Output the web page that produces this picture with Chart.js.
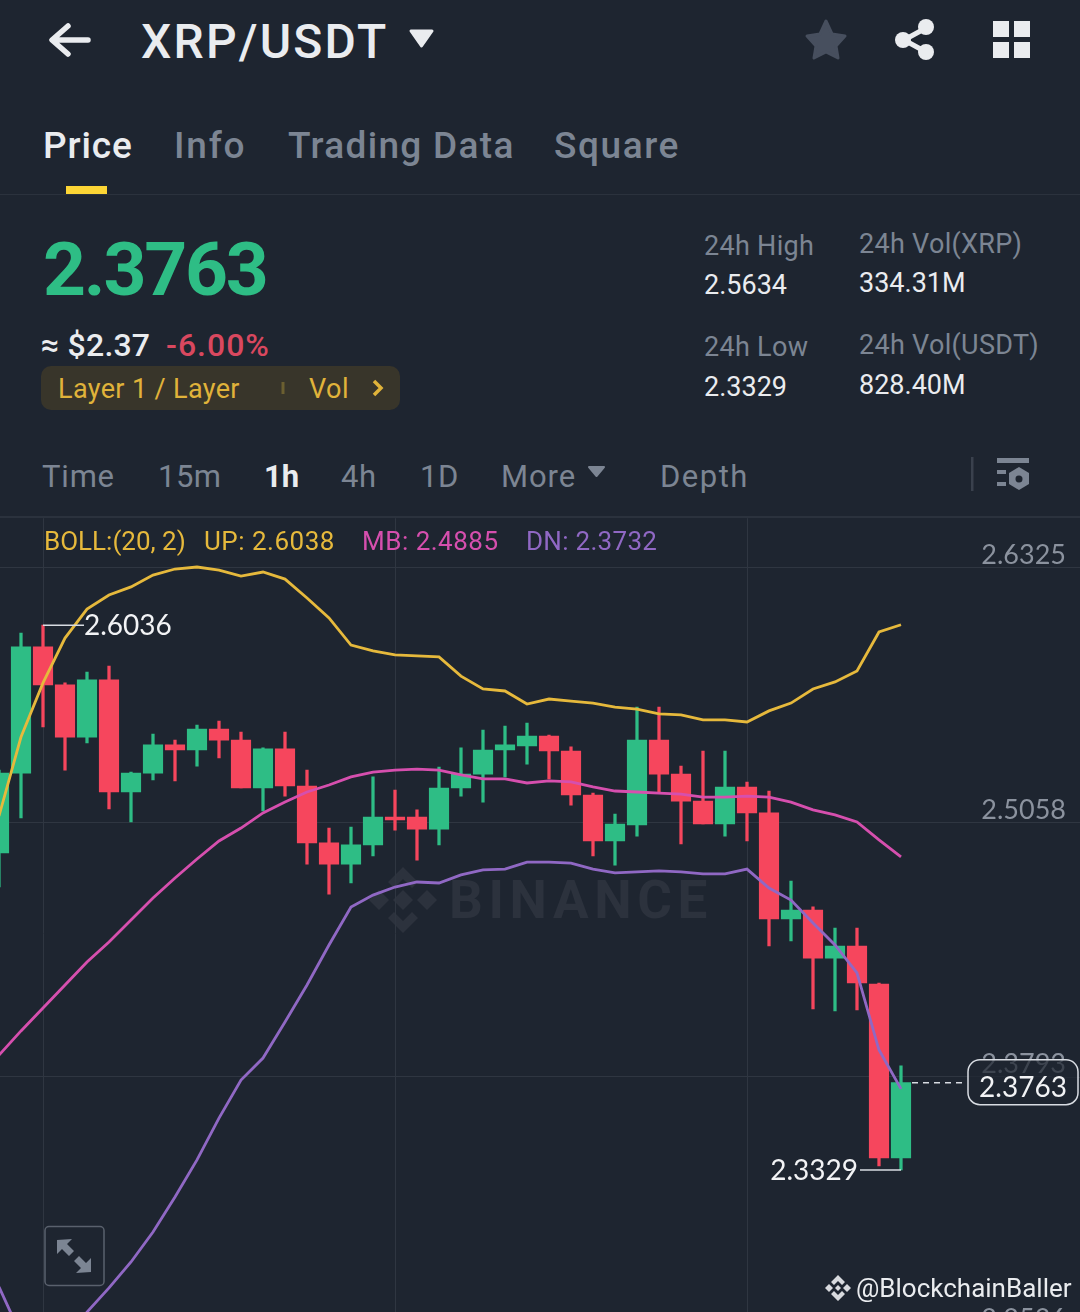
<!DOCTYPE html>
<html><head><meta charset="utf-8">
<script src="https://cdn.jsdelivr.net/npm/chart.js@4"></script>
<style>
html,body{margin:0;padding:0;width:1080px;height:1312px;overflow:hidden;background:#1e2530;font-family:"Roboto",sans-serif}
.t{position:absolute;white-space:nowrap;transform:translateY(-50%);line-height:1}
.g{color:#7c8593}.w{color:#eaecef}
.line{position:absolute;background:#2b323d}
svg{position:absolute;left:0;top:0}
#c{position:absolute;left:0;top:488px}
</style></head><body>
<svg width="1080" height="1312" viewBox="0 0 1080 1312">
 <path d="M88 40H53M68 26L52 40L68 54" fill="none" stroke="#eaecef" stroke-width="5.5" stroke-linecap="round" stroke-linejoin="round"/>
 <path d="M411 31H432L421.500 46Z" fill="#eaecef" stroke="#eaecef" stroke-width="3" stroke-linejoin="round"/>
 <path d="M826 21L832 34L845 36L836 46L838 58L826 52L814 58L816 46L807 36L820 34Z" fill="#474f5e" stroke="#474f5e" stroke-width="3" stroke-linejoin="round"/>
 <path d="M926 28L904 40L926 52" fill="none" stroke="#eaecef" stroke-width="5"/>
 <circle cx="926" cy="27" r="8" fill="#eaecef"/><circle cx="903" cy="40" r="8" fill="#eaecef"/><circle cx="926" cy="52" r="8" fill="#eaecef"/>
 <rect x="993" y="21" width="16" height="16" fill="#eaecef"/><rect x="1014" y="21" width="16" height="16" fill="#eaecef"/>
 <rect x="993" y="42" width="16" height="16" fill="#eaecef"/><rect x="1014" y="42" width="16" height="16" fill="#eaecef"/>
 <rect x="66" y="186" width="41" height="8" fill="#fcd535"/>
 <rect x="41" y="366" width="359" height="44" rx="10" fill="#38352a"/>
 <rect x="281.500" y="382" width="3" height="12" fill="#6b5f30"/>
 <path d="M374 381L381 388L374 395" fill="none" stroke="#e0b33a" stroke-width="3.500"/>
 <path d="M589 467H604L596.500 476Z" fill="#7c8593" stroke="#7c8593" stroke-width="2" stroke-linejoin="round"/>
 <rect x="971" y="457" width="2.500" height="34" fill="#3a414d"/>
 <rect x="997" y="458" width="32" height="5" fill="#7c8593"/>
 <rect x="997" y="470" width="9" height="4" fill="#7c8593"/><rect x="997" y="482" width="9" height="4" fill="#7c8593"/>
 <path d="M1019 467L1029 473V484L1019 490L1009 484V473Z" fill="#7c8593"/><circle cx="1019" cy="479" r="3.500" fill="#1e2530"/>
 <g transform="translate(403,900)" fill="#2c323d">
  <path d="M0 -33L15 -18L9 -12L0 -21L-9 -12L-15 -18Z"/><path d="M0 33L15 18L9 12L0 21L-9 12L-15 18Z"/>
  <path d="M-34 0L-24 -10L-14 0L-24 10Z"/><path d="M34 0L24 -10L14 0L24 10Z"/><path d="M0 -10L10 0L0 10L-10 0Z"/>
 </g>
</svg>
<div class="t" style="left:449px;top:900px;font-size:53px;font-weight:700;letter-spacing:5.6px;color:#2c323d">BINANCE</div>
<div class="line" style="left:0;top:194px;width:1080px;height:1px"></div>
<div class="line" style="left:0;top:516px;width:1080px;height:2px"></div>

<div class="t w" style="left:141px;top:42px;font-size:48px;font-weight:500;letter-spacing:2.2px">XRP/USDT</div>
<div class="t w" style="left:43px;top:145px;font-size:37px;font-weight:500;letter-spacing:.9px">Price</div>
<div class="t g" style="left:174px;top:145px;font-size:37px;font-weight:500;letter-spacing:1.8px">Info</div>
<div class="t g" style="left:288px;top:145px;font-size:37px;font-weight:500;letter-spacing:1.3px">Trading Data</div>
<div class="t g" style="left:554px;top:145px;font-size:37px;font-weight:500;letter-spacing:1.6px">Square</div>
<div class="t" style="left:43px;top:269px;font-size:75px;font-weight:700;letter-spacing:-2.2px;color:#2ebd85">2.3763</div>
<div class="t w" style="left:41px;top:345px;font-size:32px;font-weight:500;letter-spacing:.2px">≈ $2.37</div>
<div class="t" style="left:166px;top:345px;font-size:32px;font-weight:500;letter-spacing:1px;color:#d9485f">-6.00%</div>
<div class="t" style="left:58px;top:389px;font-size:27px;letter-spacing:.35px;color:#e0b33a">Layer 1 / Layer</div>
<div class="t" style="left:309px;top:389px;font-size:27px;color:#e0b33a;letter-spacing:.5px">Vol</div>
<div class="t g" style="left:704px;top:246px;font-size:27px;letter-spacing:.3px">24h High</div>
<div class="t w" style="left:704px;top:285px;font-size:27px">2.5634</div>
<div class="t g" style="left:859px;top:244px;font-size:27px;letter-spacing:.3px">24h Vol(XRP)</div>
<div class="t w" style="left:859px;top:283px;font-size:27px">334.31M</div>
<div class="t g" style="left:704px;top:347px;font-size:27px;letter-spacing:.3px">24h Low</div>
<div class="t w" style="left:704px;top:387px;font-size:27px">2.3329</div>
<div class="t g" style="left:859px;top:345px;font-size:27px;letter-spacing:.3px">24h Vol(USDT)</div>
<div class="t w" style="left:859px;top:385px;font-size:27px">828.40M</div>
<div class="t g" style="left:42px;top:476px;font-size:31px;letter-spacing:.8px">Time</div>
<div class="t g" style="left:158px;top:476px;font-size:31px;letter-spacing:.5px">15m</div>
<div class="t w" style="left:264px;top:476px;font-size:31px;font-weight:700">1h</div>
<div class="t g" style="left:341px;top:476px;font-size:31px;letter-spacing:.5px">4h</div>
<div class="t g" style="left:420px;top:476px;font-size:31px;letter-spacing:.5px">1D</div>
<div class="t g" style="left:501px;top:476px;font-size:31px;letter-spacing:.9px">More</div>
<div class="t g" style="left:660px;top:476px;font-size:31px;letter-spacing:1.5px">Depth</div>

<canvas id="c" width="1080" height="891"></canvas>

<div class="t" style="left:44px;top:541px;font-size:26px;color:#e6b93c">BOLL:(20, 2)</div>
<div class="t" style="left:204px;top:541px;font-size:26px;letter-spacing:.5px;color:#e6b93c">UP: 2.6038</div>
<div class="t" style="left:362px;top:541px;font-size:26px;letter-spacing:.5px;color:#d64fae">MB: 2.4885</div>
<div class="t" style="left:526px;top:541px;font-size:26px;letter-spacing:.3px;color:#9068c4">DN: 2.3732</div>

<svg width="1080" height="1312" viewBox="0 0 1080 1312">
 <rect x="45" y="1226.500" width="59" height="59" rx="4" fill="none" stroke="#5a616d" stroke-width="1.500"/>
 <path d="M57 1240L57 1254L62 1249L69 1256L74 1251L67 1244L72 1239Z" fill="#7c8593"/>
 <path d="M91 1272L91 1258L86 1263L79 1256L74 1261L81 1268L76 1273Z" fill="#7c8593"/>
 <g transform="translate(838,1288)" fill="#d8dade">
  <path d="M0 -13L7 -6L4 -3L0 -7L-4 -3L-7 -6Z"/><path d="M0 13L7 6L4 3L0 7L-4 3L-7 6Z"/>
  <path d="M-13 0L-9 -4L-5 0L-9 4Z"/><path d="M13 0L9 -4L5 0L9 4Z"/><path d="M0 -3L3 0L0 3L-3 0Z"/>
 </g>
</svg>
<div class="t w" style="left:856px;top:1288px;font-size:26px">@BlockchainBaller</div>

<script>
const opens=[2.4904,2.5301,2.5928,2.5739,2.5480,2.5764,2.5207,2.5301,2.5441,2.5416,2.5520,2.5465,2.5227,2.5421,2.5237,2.4954,2.4849,2.4944,2.5083,2.5083,2.5023,2.5227,2.5296,2.5416,2.5436,2.5485,2.5411,2.5192,2.4964,2.5043,2.5465,2.5296,2.5162,2.5048,2.5232,2.5103,2.4576,2.4621,2.4382,2.4442,2.4253,2.3389];
const highs=[2.5316,2.5997,2.6036,2.5749,2.5803,2.5833,2.5306,2.5495,2.5465,2.5540,2.5560,2.5505,2.5426,2.5505,2.5316,2.5028,2.5033,2.5282,2.5217,2.5118,2.5331,2.5426,2.5515,2.5535,2.5550,2.5490,2.5431,2.5202,2.5098,2.5629,2.5629,2.5336,2.5411,2.5411,2.5257,2.5212,2.4765,2.4636,2.4531,2.4531,2.4258,2.3846];
const lows=[2.4735,2.5078,2.5530,2.5316,2.5451,2.5123,2.5058,2.5267,2.5262,2.5336,2.5376,2.5227,2.5113,2.5187,2.4849,2.4700,2.4755,2.4889,2.5018,2.4869,2.4944,2.5187,2.5157,2.5282,2.5346,2.5272,2.5142,2.4889,2.4844,2.4988,2.5207,2.4949,2.5048,2.4988,2.4964,2.4442,2.4467,2.4129,2.4119,2.4124,2.3349,2.3329];
const closes=[2.5301,2.5928,2.5739,2.5480,2.5764,2.5207,2.5301,2.5441,2.5416,2.5520,2.5465,2.5227,2.5421,2.5237,2.4954,2.4849,2.4944,2.5083,2.5068,2.5023,2.5227,2.5296,2.5416,2.5441,2.5485,2.5411,2.5192,2.4964,2.5048,2.5465,2.5296,2.5162,2.5048,2.5232,2.5103,2.4576,2.4621,2.4382,2.4442,2.4258,2.3389,2.3763];
const bollUp=[2.5088,2.5480,2.5749,2.5972,2.6116,2.6186,2.6226,2.6285,2.6315,2.6325,2.6310,2.6280,2.6300,2.6265,2.6171,2.6072,2.5937,2.5908,2.5888,2.5883,2.5878,2.5783,2.5719,2.5709,2.5644,2.5669,2.5659,2.5649,2.5629,2.5619,2.5595,2.5590,2.5565,2.5565,2.5555,2.5610,2.5649,2.5719,2.5754,2.5808,2.6002,2.6038];
const bollMid=[2.3900,2.4020,2.4134,2.4248,2.4362,2.4462,2.4571,2.4680,2.4780,2.4874,2.4964,2.5028,2.5103,2.5157,2.5207,2.5242,2.5282,2.5306,2.5316,2.5321,2.5316,2.5292,2.5272,2.5272,2.5252,2.5262,2.5257,2.5232,2.5212,2.5207,2.5202,2.5197,2.5182,2.5182,2.5187,2.5182,2.5157,2.5118,2.5093,2.5058,2.4969,2.4885];
const bollLow=[2.2748,2.2509,2.2335,2.2474,2.2623,2.2743,2.2872,2.3021,2.3195,2.3379,2.3587,2.3776,2.3885,2.4064,2.4248,2.4447,2.4636,2.4695,2.4735,2.4760,2.4755,2.4795,2.4820,2.4824,2.4859,2.4859,2.4854,2.4824,2.4805,2.4810,2.4815,2.4810,2.4800,2.4800,2.4824,2.4730,2.4670,2.4556,2.4447,2.4308,2.3925,2.3732];
const yTicks=[2.6325,2.5058,2.3793,2.2526];
const xGridIndex=[2,18,34];
const highLabel=2.6036, lowLabel=2.3329, lastPrice=2.3763;

const UPC='#2ebd85', DNC='#f6465d', FONT='"Lato",sans-serif', GRID='#2f3641';
const col=ctx=>closes[ctx.dataIndex]>=opens[ctx.dataIndex]?UPC:DNC;
const line=(arr,c)=>({type:'line',data:arr.map((v,i)=>({x:i,y:v})),borderColor:c,borderWidth:2.8,pointRadius:0,tension:0,order:0});

const notes={id:'notes',
 beforeDatasetsDraw(ch){
  const c=ch.ctx,y=ch.scales.y;
  c.save();c.strokeStyle=GRID;c.lineWidth=1;
  y.ticks.forEach(t=>{const p=Math.round(y.getPixelForValue(t.value))+.5;c.beginPath();c.moveTo(ch.chartArea.right,p);c.lineTo(ch.width,p);c.stroke();});
  c.restore();
 },
 afterDatasetsDraw(ch){
  const c=ch.ctx,x=ch.scales.x,y=ch.scales.y;
  c.save();
  c.font='28px '+FONT;c.textBaseline='middle';
  const hx=x.getPixelForValue(highs.indexOf(highLabel)),hy=y.getPixelForValue(highLabel);
  c.strokeStyle='#d8dce2';c.lineWidth=1.5;
  c.beginPath();c.moveTo(hx,hy);c.lineTo(hx+41,hy);c.stroke();
  c.fillStyle='#f2f3f5';c.textAlign='left';c.fillText(highLabel.toFixed(4),hx+41,hy+1);
  const lx=x.getPixelForValue(lows.indexOf(lowLabel)),ly=y.getPixelForValue(lowLabel);
  c.beginPath();c.moveTo(lx,ly);c.lineTo(lx-41,ly);c.stroke();
  c.textAlign='right';c.fillText(lowLabel.toFixed(4),lx-43,ly+1);
  const py=y.getPixelForValue(lastPrice);
  c.setLineDash([6,5]);c.beginPath();c.moveTo(x.getPixelForValue(closes.length-1)+11,py);c.lineTo(966,py);c.stroke();c.setLineDash([]);
  c.fillStyle='rgba(30,37,48,.72)';c.strokeStyle='#d8dce2';
  c.beginPath();c.roundRect(968,py-23,110,45,12);c.fill();c.stroke();
  c.fillStyle='#f2f3f5';c.textAlign='center';c.fillText(lastPrice.toFixed(4),1023,py+5);
  c.restore();
 }};

new Chart(document.getElementById('c'),{
  data:{datasets:[
    line(bollLow,'#9068c4'),
    line(bollMid,'#d64fae'),
    line(bollUp,'#e6b93c'),
    {type:'bar',order:1,barThickness:19.5,grouped:false,borderWidth:0,backgroundColor:col,
     data:opens.map((o,i)=>({x:i,y:[o,closes[i]]}))},
    {type:'bar',order:2,barThickness:2.6,grouped:false,borderWidth:0,backgroundColor:col,
     data:lows.map((l,i)=>({x:i,y:[l,highs[i]]}))}
  ]},
  options:{
    responsive:false,animation:false,events:[],
    layout:{padding:0},
    plugins:{legend:{display:false},tooltip:{enabled:false}},
    scales:{
      x:{type:'linear',offset:false,min:0.04545,max:47.8636,
         afterBuildTicks:s=>{s.ticks=xGridIndex.map(v=>({value:v}))},
         ticks:{display:false},border:{display:false},
         grid:{offset:false,color:GRID,lineWidth:1,drawTicks:false}},
      y:{type:'linear',position:'right',min:2.24406,max:2.65675,
         afterBuildTicks:s=>{s.ticks=yTicks.map(v=>({value:v}))},
         border:{display:false},
         grid:{color:GRID,lineWidth:1,drawTicks:false},
         ticks:{mirror:true,padding:14,labelOffset:-12,color:'#8b929e',font:{size:27,family:'Lato'},
                callback:v=>v.toFixed(4)}}
    }
  },
  plugins:[notes]
});
</script>
</body></html>
